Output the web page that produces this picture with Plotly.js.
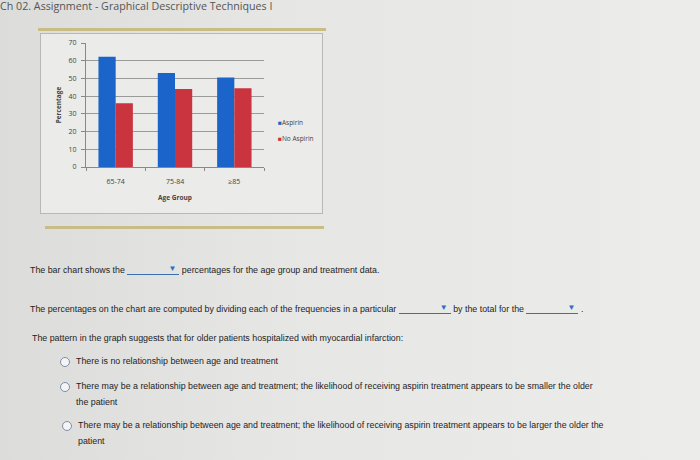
<!DOCTYPE html>
<html>
<head>
<meta charset="utf-8">
<script src="https://cdn.plot.ly/plotly-3.0.1.min.js"></script>
<style>
  body { margin: 0; width: 700px; height: 460px; overflow: hidden;
         background: linear-gradient(90deg, #dcdcda 0%, #e6e6e4 40%, #ececea 100%);
         font-family: "Liberation Sans", Arial, sans-serif; color: #333; }
  .hdr { position: absolute; left: 0px; top: 0px; font-size: 10.7px; line-height: 12px; color: #555; font-family: "Open Sans", sans-serif; }
  .gold { position: absolute; height: 3px; background: #c9bd86; }
  #box { position: absolute; left: 40px; top: 33px; width: 281px; height: 179px;
         border: 1px solid #b8b8b8; background: #ebebe9; }
  #chart { width: 281px; height: 179px; }
  .t { position: absolute; font-size: 8.85px; white-space: nowrap; color: #1e1e1e; }
  .blank { display: inline-block; border-bottom: 1px solid #3a6fb0; position: relative; height: 10px; vertical-align: bottom; }
  .blank:after { content: "\25BC"; position: absolute; right: 3px; top: 0px; font-size: 8px; color: #2f6fc0; }
  .radio { position: absolute; width: 8px; height: 8px; border: 1px solid #7d8ea8; border-radius: 50%; background: #f4f4f4; }
</style>
</head>
<body>
<div class="hdr">Ch 02. Assignment - Graphical Descriptive Techniques I</div>
<div class="gold" style="left:38px; top:28px; width:288px;"></div>
<div id="box"><div id="chart"></div></div>
<div class="gold" style="left:45px; top:226px; width:279px;"></div>

<div class="t" style="left:30px; top:264px;">The bar chart shows the <span class="blank" style="width:52px;"></span> percentages for the age group and treatment data.</div>
<div class="t" style="left:30px; top:303px;">The percentages on the chart are computed by dividing each of the frequencies in a particular <span class="blank" style="width:52px;"></span> by the total for the <span class="blank" style="width:52px;"></span> .</div>
<div class="t" style="left:32px; top:333px;">The pattern in the graph suggests that for older patients hospitalized with myocardial infarction:</div>

<div class="radio" style="left:60px; top:357px;"></div>
<div class="t" style="left:76px; top:356px;">There is no relationship between age and treatment</div>
<div class="radio" style="left:60px; top:382px;"></div>
<div class="t" style="left:76px; top:381px;">There may be a relationship between age and treatment; the likelihood of receiving aspirin treatment appears to be smaller the older</div>
<div class="t" style="left:76px; top:397px;">the patient</div>
<div class="radio" style="left:62px; top:421px;"></div>
<div class="t" style="left:78px; top:420px;">There may be a relationship between age and treatment; the likelihood of receiving aspirin treatment appears to be larger the older the</div>
<div class="t" style="left:78px; top:436px;">patient</div>

<script>
// age groups and percentages
var ageGroups = ['65-74', '75-84', '\u226585'];
var aspirin = [62.3, 53, 50.5];
var noAspirin = [36, 44, 44.5];
var seriesNames = ['Aspirin', 'No Aspirin'];
var seriesColors = ['#1b64c9', '#c9343e'];

var plot_data = [
    {
        x: ageGroups,
        y: aspirin,
        name: seriesNames[0],
        type: 'bar',
        marker: { color: seriesColors[0] }
    },
    {
        x: ageGroups,
        y: noAspirin,
        name: seriesNames[1],
        type: 'bar',
        marker: { color: seriesColors[1] }
    }
];

// small square legend like the original (plotly's bar legend swatch is too big)
var annotations = seriesNames.map(function(n, i) {
    return {
        xref: 'paper', yref: 'paper',
        x: 1.07, y: 0.36 - i*0.13,
        xanchor: 'left', yanchor: 'middle',
        showarrow: false,
        text: '<span style="color:' + seriesColors[i] + '">\u25A0</span>' + n,
        font: { family: '"Open Sans", sans-serif', size: 6.5, color: '#444' }
    };
});

var layout = {
    width: 281,
    height: 179,
    margin: { l: 45, r: 58, t: 9, b: 46 },
    paper_bgcolor: 'rgba(0,0,0,0)',
    plot_bgcolor: 'rgba(0,0,0,0)',
    barmode: 'group',
    bargap: 0.42,
    bargroupgap: 0,
    showlegend: false,
    annotations: annotations,
    font: { family: '"Open Sans", sans-serif', size: 7, color: '#444' },
    xaxis: {
        showline: true,
        linecolor: '#888',
        linewidth: 1,
        ticks: 'outside',
        tickson: 'boundaries',
        ticklen: 3,
        tickcolor: '#888',
        ticklabelstandoff: 8,
        title: { text: '<b>Age Group</b>', font: { size: 6.5, color: '#444' }, standoff: 10 }
    },
    yaxis: {
        range: [0, 70],
        dtick: 10,
        showline: true,
        linecolor: '#888',
        ticks: 'outside',
        ticklen: 4,
        tickcolor: '#888',
        ticklabelstandoff: 3,
        gridcolor: '#9a9a9a',
        gridwidth: 1,
        zeroline: false,
        title: { text: '<b>Percentage</b>', font: { size: 6.5, color: '#444' }, standoff: 6 }
    }
};

var config = { staticPlot: true, displayModeBar: false };
Plotly.newPlot(document.getElementById('chart'), plot_data, layout, config);
</script>
</body>
</html>
